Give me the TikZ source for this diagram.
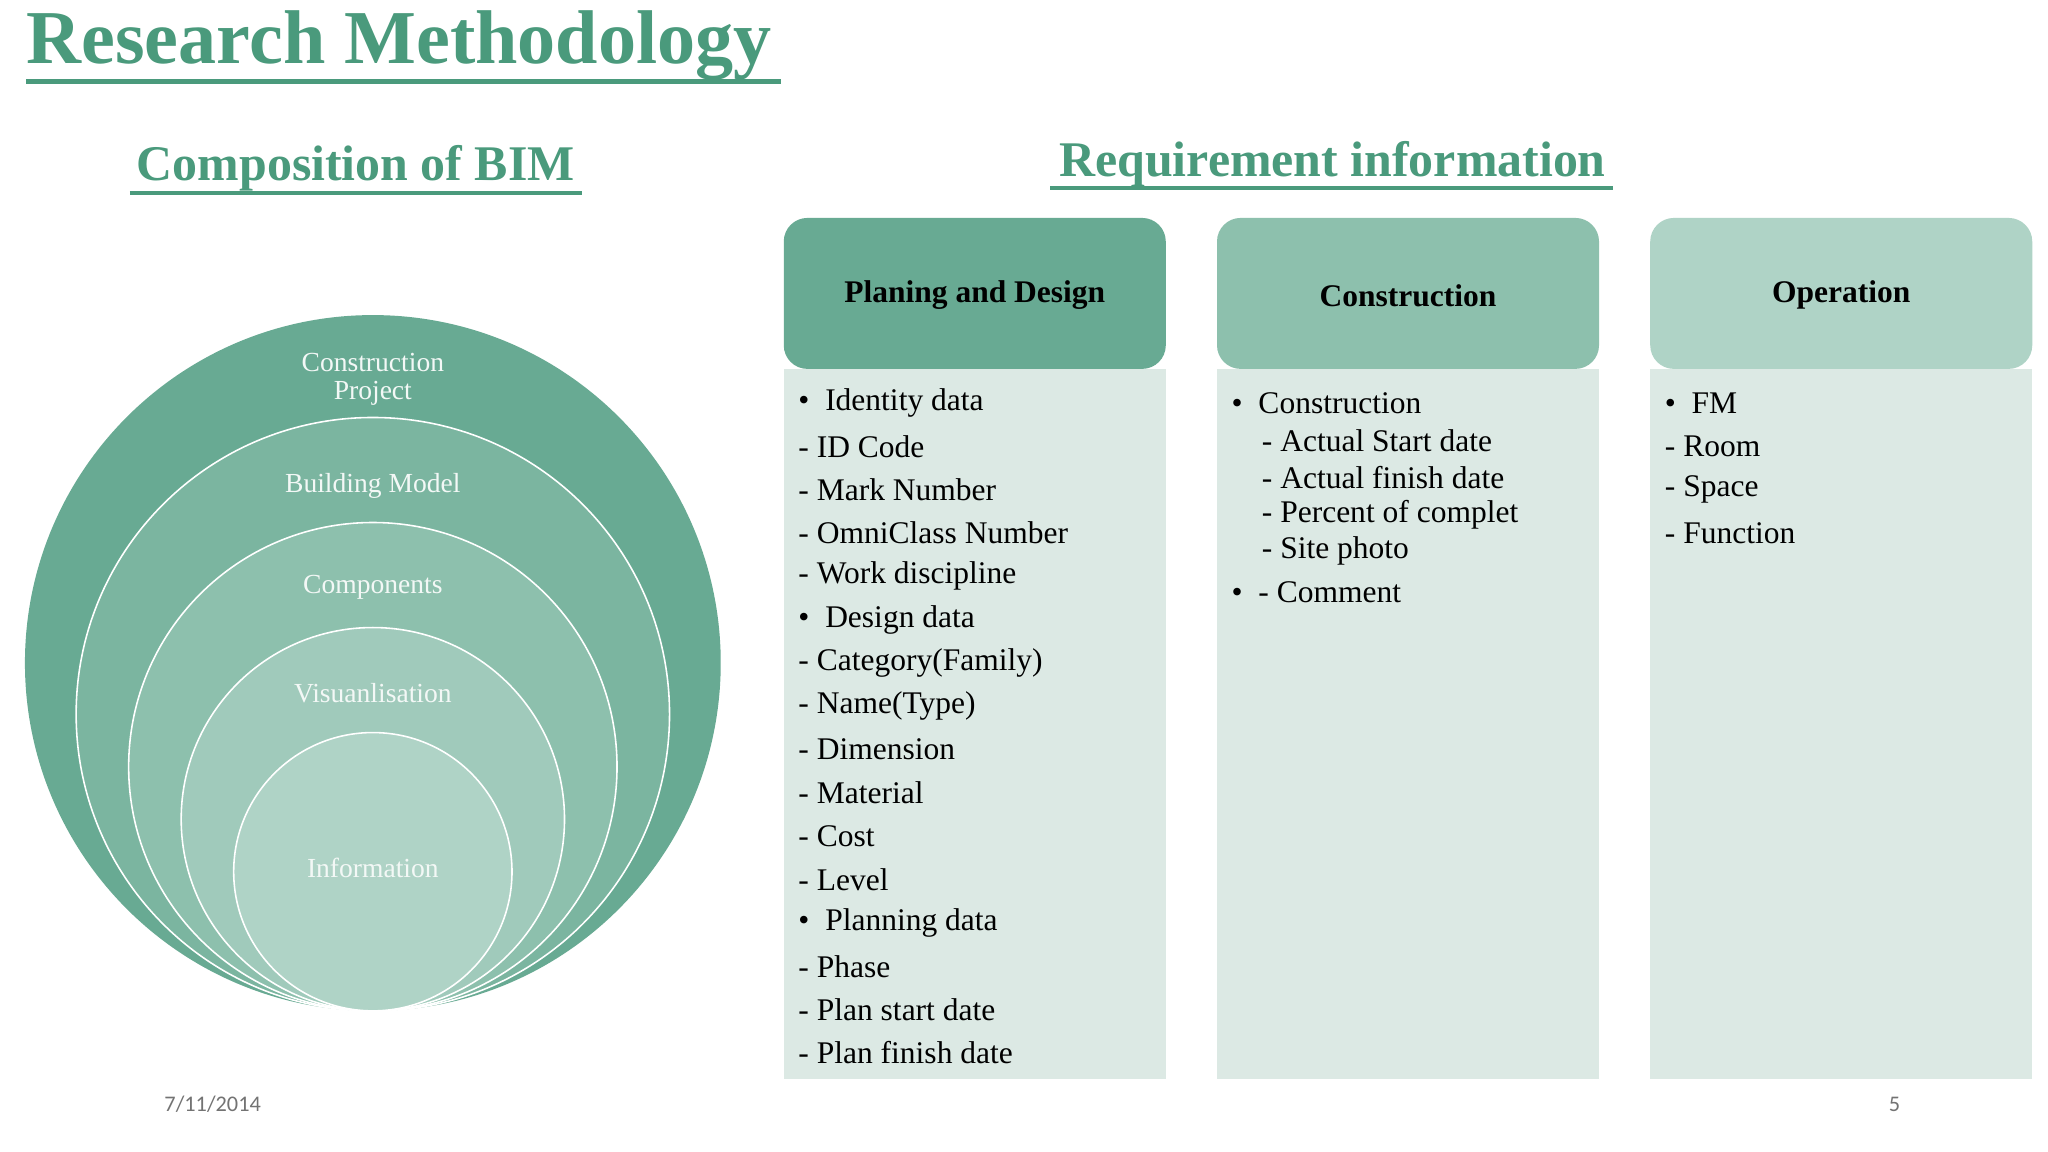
\documentclass[tikz,border=0pt]{standalone}
\usepackage{fontspec}
\setmainfont{Liberation Serif}
\newfontfamily\foot{Carlito}
\definecolor{tgreen}{HTML}{4A9A7C}
\definecolor{c1}{HTML}{68AA93}
\definecolor{c2}{HTML}{7BB5A0}
\definecolor{c3}{HTML}{8DC0AD}
\definecolor{c4}{HTML}{A0CABB}
\definecolor{c5}{HTML}{AFD3C6}
\definecolor{bodyc}{HTML}{DCE9E4}
\tikzset{
 ring/.style={draw=white,line width=1.2pt},
 rlab/.style={text=white!92!c1,font=\fontsize{21}{24}\selectfont,align=center},
 hdr/.style={font=\fontsize{24}{28}\selectfont\bfseries},
 itm/.style={anchor=west,font=\fontsize{24}{28}\selectfont,inner sep=0pt},
 sub/.style={font=\fontsize{38}{44}\selectfont\bfseries,text=tgreen,inner sep=0pt},
}
\begin{document}
\begin{tikzpicture}[x=1pt,y=-1pt]
\useasboundingbox (0,0) rectangle (1560,877.5);
\fill[white] (0,0) rectangle (1560,877.5);
% title
\node[anchor=west,inner sep=0pt,font=\fontsize{58}{64}\selectfont\bfseries,text=tgreen] (title) at (20,35) {Research Methodology};
\draw[tgreen,line width=4pt] (20,62) -- (595,62);
\node[sub] (comp) at (271,128) {Composition of BIM};
\draw[tgreen,line width=3pt] (99,147) -- (443,147);
\node[sub] (req) at (1015,125) {Requirement information};
\draw[tgreen,line width=3pt] (800,143) -- (1229,143);
% circles
\fill[c1] (284,505) circle (265);
\filldraw[fill=c2,ring] (284,544) circle (226);
\filldraw[fill=c3,ring] (284,584) circle (186);
\filldraw[fill=c4,ring] (284,624) circle (146);
\filldraw[fill=c5,ring] (284,664) circle (106);
\node[rlab] (l1) at (284,289) {Construction\\[-3pt]Project};
\node[rlab] (l2) at (284,370) {Building Model};
\node[rlab] (l3) at (284,447) {Components};
\node[rlab] (l4) at (284,528) {Visuanlisation};
\node[rlab] (l5) at (284,661) {Information};
% columns
\foreach \x/\c/\t/\n in {597/c1/Planing and Design/h1,927/c3/Construction/h2,1257/c5/Operation/h3}{
  \fill[bodyc] (\x,281) rectangle (\x+291,822);
  \fill[\c,rounded corners=18pt] (\x,281) -- (\x,166) -- (\x+291,166) -- (\x+291,281) -- cycle;
  \node[hdr] (\n) at (\x+145.5,225) {\t};
}
% column 1
\foreach \y/\b/\t [count=\i] in {307/1/Identity data,340/0/ID Code,373/0/Mark Number,406/0/OmniClass Number,439/0/Work discipline,472/1/Design data,505/0/Category(Family),538/0/Name(Type),571/0/Dimension,604/0/Material,637/0/Cost,670/0/Level,703/1/Planning data,736/0/Phase,769/0/Plan start date,802/0/Plan finish date}{
  \ifnum\b=1
    \node[itm] (a\i) at (608,\y) {\textbullet\hspace{12pt}\t};
  \else
    \node[itm] (a\i) at (608,\y) {- \t};
  \fi
}
% column 2
\node[itm] (b1) at (938,307) {\textbullet\hspace{12pt}Construction};
\foreach \y/\t [count=\i] in {336/Actual Start date,364/Actual finish date,392/Percent of complet,420/Site photo}{
  \node[itm] (bs\i) at (961,\y) {- \t};
}
\node[itm] (b2) at (938,451) {\textbullet\hspace{12pt}- Comment};
% column 3
\node[itm] (c1n) at (1268,307) {\textbullet\hspace{12pt}FM};
\node[itm] (c2n) at (1268,340) {- Room};
\node[itm] (c3n) at (1268,373) {- Space};
\node[itm] (c4n) at (1268,406) {- Function};
% footer
\node[font=\foot\fontsize{17}{20}\selectfont,text=black!55] (date) at (162,841) {7/11/2014};
\node[font=\foot\fontsize{17}{20}\selectfont,text=black!55] (pg) at (1443,841) {5};
\end{tikzpicture}
\end{document}
